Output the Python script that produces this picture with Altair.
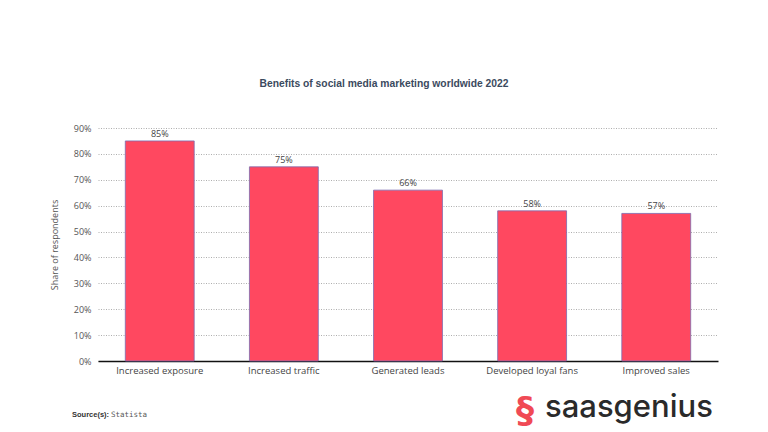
import altair as alt
import pandas as pd

categories = ["Increased exposure", "Increased traffic", "Generated leads", "Developed loyal fans", "Improved sales"]
values = [85, 75, 66, 58, 57]
labels = ["85%", "75%", "66%", "58%", "57%"]
y_ticks = [0, 10, 20, 30, 40, 50, 60, 70, 80, 90]

df = pd.DataFrame({"benefit": categories, "share": values, "label": labels})

x = alt.X("benefit:N", sort=categories, title=None,
          scale=alt.Scale(paddingInner=0.445, paddingOuter=0.22),
          axis=alt.Axis(labelAngle=0, labelFontSize=9.5, labelColor="#444", labelFont="Open Sans",
                        ticks=False, domainColor="#111", domainWidth=1.5, labelPadding=4))
y = alt.Y("share:Q", title="Share of respondents",
          scale=alt.Scale(domain=[0, 90], nice=False),
          axis=alt.Axis(values=y_ticks, tickCount=10, labelOverlap=False,
                        labelExpr="datum.value + '%'", labelFontSize=9,
                        labelColor="#555", labelFont="Open Sans", ticks=False, domain=False,
                        labelPadding=7, grid=True, gridDash=[1, 1.5], gridColor="#999",
                        gridWidth=0.8, titleFontSize=9, titleColor="#555", titleFont="Open Sans",
                        titleFontWeight="normal", titlePadding=14))

bars = alt.Chart(df).mark_bar(color="#ff4860", stroke="#7b6bb0", strokeWidth=0.8).encode(x=x, y=y)
text = alt.Chart(df).mark_text(dy=-7, fontSize=9, color="#444", font="Open Sans").encode(
    x=alt.X("benefit:N", sort=categories), y="share:Q", text="label:N")

src_df = pd.DataFrame({"a": ["Source(s):"], "b": ["Statista"]})
src1 = alt.Chart(src_df).mark_text(align="left", baseline="middle", fontSize=7.5, fontWeight="bold",
                                   color="#333", font="Liberation Sans").encode(
    x=alt.value(-26), y=alt.value(287), text="a:N")
src2 = alt.Chart(src_df).mark_text(align="left", baseline="middle", fontSize=7.5,
                                   color="#555", font="DejaVu Sans Mono").encode(
    x=alt.value(13), y=alt.value(287), text="b:N")

logo_df = pd.DataFrame({"t": ["saasgenius"], "i": ["§"]})
logo = alt.Chart(logo_df).mark_text(align="left", baseline="alphabetic", fontSize=31, fontWeight=500,
                                    color="#2a2a2a", font="Inter").encode(
    x=alt.value(447), y=alt.value(289), text="t:N")
icon = alt.Chart(logo_df).mark_text(align="left", baseline="alphabetic", fontSize=36, fontWeight="bold",
                                    color="#f04a55", font="DejaVu Sans").encode(
    x=alt.value(418), y=alt.value(294), text="i:N")

chart = alt.layer(bars, text, src1, src2, icon, logo).properties(
    width=620, height=233,
    background="white",
    title=alt.TitleParams("Benefits of social media marketing worldwide 2022", fontSize=10.3,
                          font="Liberation Sans", fontWeight="bold", color="#3b4a5e",
                          anchor="middle", dx=-24, offset=35),
    autosize=alt.AutoSizeParams(type="none"),
    padding={"left": 98, "top": 128, "right": 50, "bottom": 71},
).configure_view(strokeWidth=0, stroke=None)

chart.save("out.html", embed_options={"renderer": "svg", "actions": False})
